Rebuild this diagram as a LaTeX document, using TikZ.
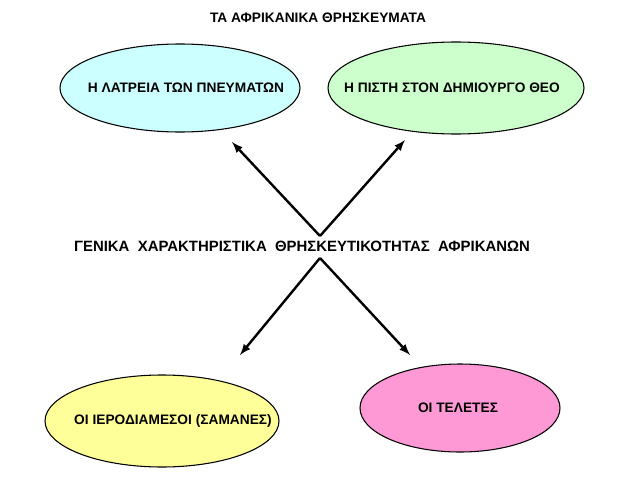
\documentclass[tikz,border=0pt]{standalone}
\usepackage{fontspec}
\setmainfont{Liberation Sans}
\begin{document}
\begin{tikzpicture}[x=0.75pt,y=-0.75pt,
  lbl/.style={font=\bfseries\fontsize{10.3}{12}\selectfont},
  ar/.style={line width=1.8pt,-latex}]
\useasboundingbox[fill=white] (0,0) rectangle (638,478);
\node[font=\bfseries\fontsize{10.3}{12}\selectfont] (title) at (318,18) {ΤΑ ΑΦΡΙΚΑΝΙΚΑ ΘΡΗΣΚΕΥΜΑΤΑ};
\draw[fill={rgb,255:red,204;green,255;blue,255},line width=0.8pt] (180,88) ellipse [x radius=120,y radius=44];
\node[lbl] (e1) at (186,88) {Η ΛΑΤΡΕΙΑ ΤΩΝ ΠΝΕΥΜΑΤΩΝ};
\draw[fill={rgb,255:red,204;green,255;blue,204},line width=0.8pt] (456,88) ellipse [x radius=128,y radius=46];
\node[lbl] (e2) at (452,88) {Η ΠΙΣΤΗ ΣΤΟΝ ΔΗΜΙΟΥΡΓΟ ΘΕΟ};
\draw[fill={rgb,255:red,255;green,255;blue,153},line width=0.8pt] (162,421) ellipse [x radius=117,y radius=46];
\node[lbl] (e3) at (173,421) {ΟΙ ΙΕΡΟΔΙΑΜΕΣΟΙ (ΣΑΜΑΝΕΣ)};
\draw[fill={rgb,255:red,255;green,153;blue,214},line width=0.8pt] (460,408) ellipse [x radius=100,y radius=44];
\node[lbl] (e4) at (458,408) {ΟΙ ΤΕΛΕΤΕΣ};
\node[font=\bfseries\fontsize{11.2}{12}\selectfont] (c) at (302,246) {ΓΕΝΙΚΑ\ \ ΧΑΡΑΚΤΗΡΙΣΤΙΚΑ\ \ ΘΡΗΣΚΕΥΤΙΚΟΤΗΤΑΣ\ \ ΑΦΡΙΚΑΝΩΝ};
\coordinate (u) at (320,236);
\coordinate (l) at (320,258);
\coordinate (a1) at (232,142);
\coordinate (a2) at (405,140);
\coordinate (a3) at (240,355);
\coordinate (a4) at (410,355);
\draw[ar] (u) -- (a1);
\draw[ar] (u) -- (a2);
\draw[ar] (l) -- (a3);
\draw[ar] (l) -- (a4);
\end{tikzpicture}
\end{document}
